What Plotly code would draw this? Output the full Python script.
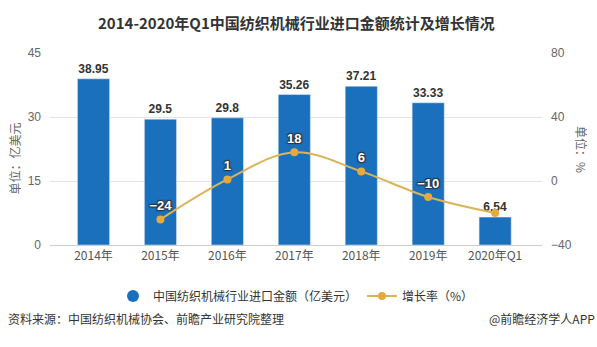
import plotly.graph_objects as go

categories = ["2014年", "2015年", "2016年", "2017年", "2018年", "2019年", "2020年Q1"]
import_values = [38.95, 29.5, 29.8, 35.26, 37.21, 33.33, 6.54]
growth_rates = [None, -24, 1, 18, 6, -10, -20]
growth_labels = ["", "−24", "1", "18", "6", "−10", ""]
left_ticks = [0, 15, 30, 45]
right_ticks = [-40, 0, 40, 80]

FONT = "Liberation Sans, Noto Sans CJK SC, sans-serif"
CJK = "Noto Sans CJK SC, sans-serif"
BAR_COLOR = "#1a70bd"
LINE_COLOR = "#d9b55a"
MARK_COLOR = "#e8a93a"

fig = go.Figure()
fig.add_trace(go.Bar(
    x=categories, y=import_values, name="中国纺织机械行业进口金额（亿美元）",
    marker=dict(color=BAR_COLOR), width=0.48, showlegend=False,
    text=[str(v) for v in import_values], textposition="outside",
    textfont=dict(family=FONT, size=12, color="#333333", weight="bold"),
    cliponaxis=False, yaxis="y",
))
# legend entry with circle marker for the bar series
fig.add_trace(go.Scatter(
    x=[categories[0]], y=[None], name="中国纺织机械行业进口金额（亿美元）",
    mode="markers", marker=dict(color=BAR_COLOR, size=12, symbol="circle"),
    yaxis="y", hoverinfo="skip",
))
fig.add_trace(go.Scatter(
    x=categories, y=growth_rates, name="增长率（%）",
    mode="lines+markers+text", line=dict(color=LINE_COLOR, width=2, shape="spline"),
    marker=dict(color=MARK_COLOR, size=8),
    text=growth_labels, textposition="top center",
    textfont=dict(family=FONT, size=13, color="#ffffff", weight="bold",
                  shadow="1px 1px 1px #2a3440, -1px -1px 1px #2a3440, 1px -1px 1px #2a3440, -1px 1px 1px #2a3440"),
    cliponaxis=False, yaxis="y2", connectgaps=False,
))

fig.update_layout(
    width=597, height=347,
    margin=dict(l=50, r=55, t=53, b=102),
    paper_bgcolor="white", plot_bgcolor="white",
    font=dict(family=FONT, size=12, color="#666666"),
    showlegend=True,
    legend=dict(orientation="h", x=0.5, xanchor="center", y=-0.19, yanchor="top",
                font=dict(family=CJK, size=12, color="#333333"), itemwidth=30),
    xaxis=dict(range=[-0.65, 6.7], showgrid=False, showline=True, linecolor="#cccccc",
               ticks="", tickfont=dict(family=CJK, size=12, color="#555555"), fixedrange=True),
    yaxis=dict(range=[0, 45], tickvals=left_ticks, showgrid=True, gridcolor="#e3e3e3",
               zeroline=False, showline=False, tickfont=dict(size=12, color="#666666"), ticklabelstandoff=8),
    yaxis2=dict(range=[-40, 80], tickvals=right_ticks, overlaying="y", side="right",
                showgrid=False, zeroline=False, showline=False,
                tickfont=dict(size=12, color="#666666"), ticklabelstandoff=8),
    bargap=0.5,
)

fig.add_annotation(text="<b>2014-2020年Q1中国纺织机械行业进口金额统计及增长情况</b>",
                   xref="paper", yref="paper", x=0.5, y=1, yshift=31, xanchor="center", yanchor="middle",
                   showarrow=False, font=dict(family=CJK, size=15, color="#333333"))
fig.add_annotation(text="单位：亿美元", xref="paper", yref="paper", x=0, xshift=-35, y=0.45,
                   xanchor="center", yanchor="middle",
                   textangle=-90, showarrow=False, font=dict(family=CJK, size=12, color="#666666"))
fig.add_annotation(text="单位：%", xref="paper", yref="paper", x=1, xshift=40, y=0.5,
                   xanchor="center", yanchor="middle",
                   textangle=90, showarrow=False, font=dict(family=CJK, size=12, color="#666666"))
fig.add_annotation(text="资料来源：中国纺织机械协会、前瞻产业研究院整理", xref="paper", yref="paper",
                   x=0, xshift=-44, y=0, yshift=-73, xanchor="left", yanchor="middle",
                   showarrow=False, font=dict(family=CJK, size=12, color="#333333"))
fig.add_annotation(text="@前瞻经济学人APP", xref="paper", yref="paper",
                   x=1, xshift=55, y=0, yshift=-73, xanchor="right", yanchor="middle",
                   showarrow=False, font=dict(family=CJK, size=12, color="#333333"))

fig.write_html("out.html")
